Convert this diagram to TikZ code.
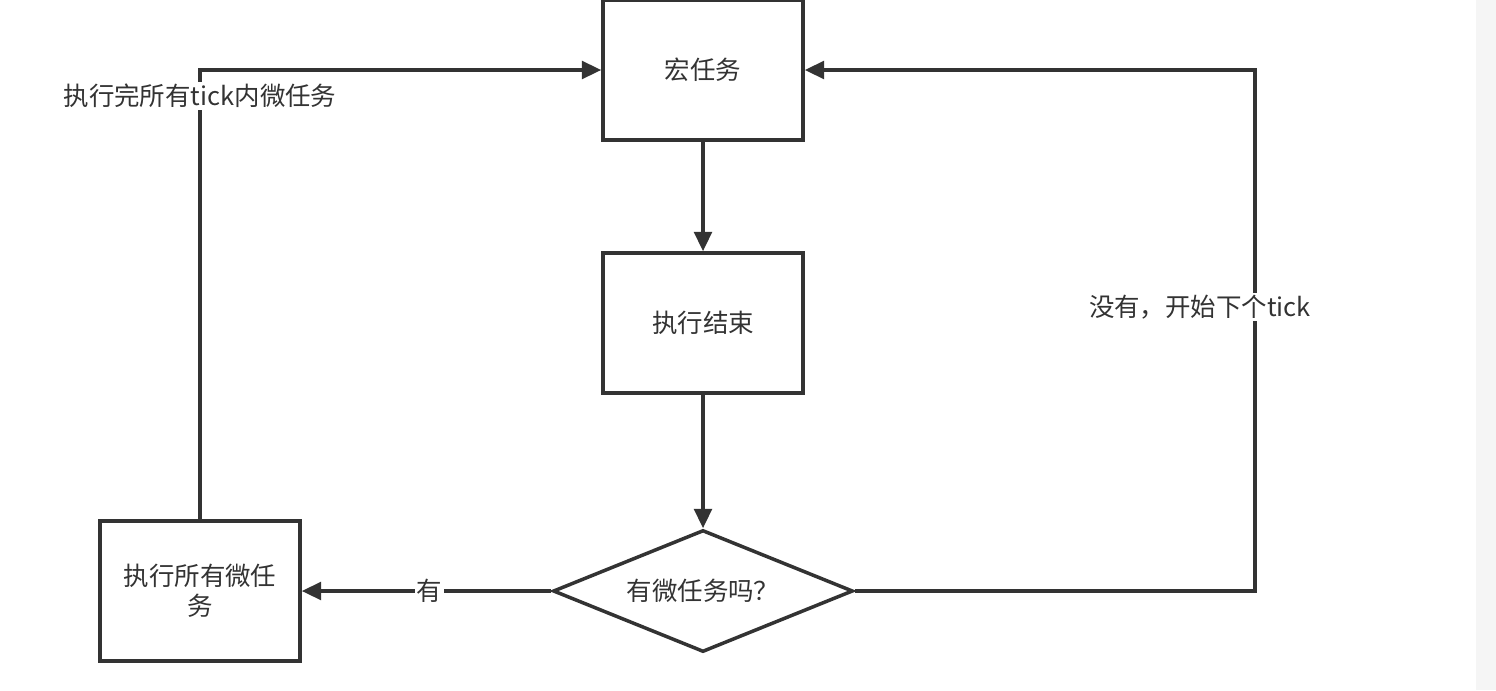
\documentclass[tikz,border=0pt]{standalone}
\usepackage{fontspec}
\setmainfont{Noto Sans CJK SC}
\usetikzlibrary{shapes, shapes.geometric, arrows.meta, positioning}

\begin{document}
\begin{tikzpicture}[x=0.02cm, y=-0.02cm,
  box/.style={draw=black!80, line width=2pt, minimum width=4cm, minimum height=2.8cm, align=center, font=\fontsize{14.5}{17}\selectfont, text=black!80},
  flow/.style={draw=black!80, line width=2pt, -{Triangle[length=11pt,width=10pt]}},
  lbl/.style={fill=white, inner sep=1pt, font=\fontsize{14.5}{17}\selectfont, text=black!80}]

  \useasboundingbox (0,0) rectangle (1496,690);
  \fill[black!4] (1476,0) rectangle (1496,690);

  \node[box] (macro) at (703,70) {宏任务};
  \node[box] (done) at (703,323) {执行结束};
  \node[box, diamond, aspect=2.45, minimum width=6cm, minimum height=2.44cm, inner sep=0pt] (check) at (703,591) {有微任务吗？};
  \node[box, text width=3.2cm] (micro) at (200,591) {执行所有微任\\务};

  \coordinate (upleft) at (200,70);
  \coordinate (downright) at (1255,591);
  \coordinate (upright) at (1255,70);

  \draw[flow] (macro) -- (done);
  \draw[flow] (done) -- (check);
  \draw[flow] (check) -- node[lbl, pos=0.49] {有} (micro);
  \draw[flow] (micro) -- (upleft) -- (macro);
  \node[lbl] at (200,96) {执行完所有tick内微任务};
  \draw[flow] (check.east) -- (downright) -- (upright) -- (macro);
  \node[lbl] at (1200,307) {没有，开始下个tick};
\end{tikzpicture}
\end{document}
